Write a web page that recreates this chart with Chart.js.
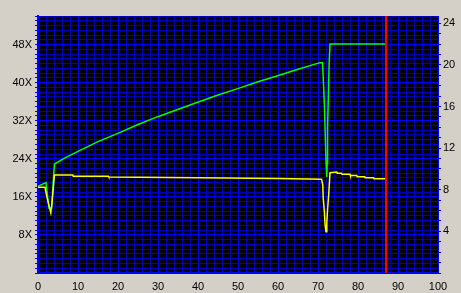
<!DOCTYPE html>
<html>
<head>
<meta charset="utf-8">
<script src="https://cdn.jsdelivr.net/npm/chart.js@4/dist/chart.umd.min.js"></script>
<style>
  html, body { margin: 0; padding: 0; background: #d4d0c8; }
  #wrap { width: 461px; height: 293px; }
</style>
</head>
<body>
<div id="wrap"><canvas id="speed-chart" width="461" height="293"></canvas></div>
<script>
// Speed curve (left axis, X)
const speedPos = [0, 2, 2.75, 3.4, 4.1, 7, 10.1, 15, 20.1, 25, 30.1, 38, 45, 50.1, 55, 60.1, 65, 70.5, 71.1, 71.3, 71.6, 71.8, 72.0, 72.2, 72.3, 72.4, 72.6, 72.8, 73.0, 87];
const speedVal = [18.2, 19.0, 13.6, 13.6, 22.9, 24.3, 25.6, 27.6, 29.4, 31.2, 32.9, 35.3, 37.4, 38.8, 40.2, 41.5, 42.8, 44.2, 44.2, 41.3, 35.3, 29.4, 23.4, 20.2, 23.0, 30.4, 37.8, 44.4, 48.1, 48.1];

// Rotation curve (right axis)
const rpmPos = [0, 1.75, 2.2, 3.2, 3.5, 4.1, 8.7, 8.8, 17.6, 17.7, 40, 60, 70.9, 71.2, 71.3, 71.6, 71.75, 72.0, 72.2, 72.4, 72.7, 73.0, 74.7, 74.8, 75.9, 76, 78, 78.1, 79.7, 79.8, 81.7, 81.8, 83.9, 84, 86.8, 87];
const rpmVal = [8.24, 8.24, 7.34, 5.8, 6.7, 9.42, 9.42, 9.3, 9.3, 9.23, 9.15, 9.08, 9.0, 8.46, 7.21, 5.89, 4.71, 3.97, 4.8, 6.15, 7.69, 9.64, 9.71, 9.59, 9.59, 9.49, 9.49, 9.36, 9.36, 9.26, 9.26, 9.16, 9.16, 9.07, 9.07, 9.0];

// End marker
const markerPos = [87, 87];
const markerVal = [0, 54];

const xLabels = [0, 10, 20, 30, 40, 50, 60, 70, 80, 90, 100];
const leftLabels = [8, 16, 24, 32, 40, 48];
const rightLabels = [4, 8, 12, 16, 20, 24];

const toPoints = (xs, ys) => xs.map((x, i) => ({ x: x, y: ys[i] }));

const MAJOR = "#0000ff";
const MINOR = "#0000b8";

// black plot background
const plotBg = {
  id: "plotBg",
  beforeDraw(chart) {
    const a = chart.chartArea;
    const ctx = chart.ctx;
    ctx.save();
    ctx.fillStyle = "#000000";
    ctx.fillRect(a.left, a.top, a.right - a.left, a.bottom - a.top);
    ctx.restore();
  }
};

Chart.defaults.font.family = "'Liberation Sans', Arial, sans-serif";
Chart.defaults.font.size = 11;
Chart.defaults.color = "#000000";

const ctx = document.getElementById("speed-chart").getContext("2d");
const chart = new Chart(ctx, {
  type: "line",
  data: {
    datasets: [{
      data: toPoints(markerPos, markerVal),
      borderColor: "#ff0000",
      borderWidth: 2,
      pointRadius: 0,
      yAxisID: "y"
    }, {
      data: toPoints(rpmPos, rpmVal),
      borderColor: "#ffff00",
      borderWidth: 1.5,
      pointRadius: 0,
      yAxisID: "y1"
    }, {
      data: toPoints(speedPos, speedVal),
      borderColor: "#00ff00",
      borderWidth: 1.5,
      pointRadius: 0,
      yAxisID: "y"
    }]
  },
  options: {
    responsive: false,
    animation: false,
    layout: { padding: { top: 16, left: 0, right: 0, bottom: 0 } },
    plugins: { legend: { display: false }, tooltip: { enabled: false } },
    scales: {
      x: {
        type: "linear",
        min: 0,
        max: 100,
        afterFit(scale) { scale.height = 20; },
        border: { color: MAJOR, width: 2 },
        grid: {
          drawTicks: false,
          color: c => (c.tick.value % 10 === 0 ? MAJOR : MINOR)
        },
        ticks: {
          stepSize: 2,
          autoSkip: false,
          maxRotation: 0,
          padding: 7,
          callback: v => (xLabels.includes(v) ? String(v) : "")
        }
      },
      y: {
        position: "left",
        min: 0,
        max: 54,
        afterFit(scale) { scale.width = 38; },
        border: { color: MAJOR, width: 2 },
        grid: {
          tickLength: 3,
          tickColor: MAJOR,
          color: c => (c.tick.value % 8 === 0 ? MAJOR : MINOR)
        },
        ticks: {
          stepSize: 1,
          autoSkip: false,
          padding: 3,
          callback: v => (leftLabels.includes(v) ? v + "X" : "")
        }
      },
      y1: {
        position: "right",
        min: 0,
        max: 24.7,
        afterFit(scale) { scale.width = 23; },
        afterBuildTicks(scale) {
          const t = [];
          for (let i = 0; i <= 24; i++) t.push({ value: i });
          scale.ticks = t;
        },
        border: { color: MAJOR, width: 1 },
        grid: {
          drawOnChartArea: false,
          tickLength: 3,
          tickColor: MAJOR
        },
        ticks: {
          autoSkip: false,
          padding: 2,
          callback: v => (rightLabels.includes(v) ? String(v) : "")
        }
      }
    }
  },
  plugins: [plotBg]
});
</script>
</body>
</html>
